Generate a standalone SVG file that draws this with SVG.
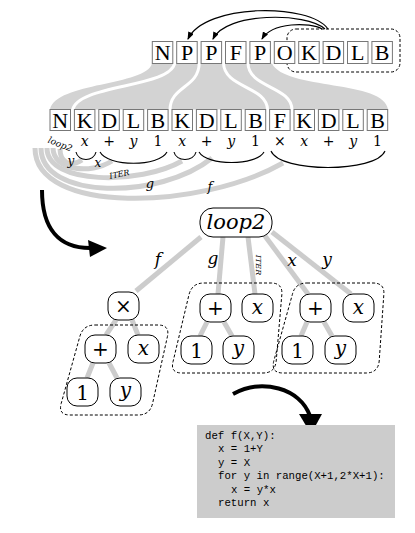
<svg xmlns="http://www.w3.org/2000/svg" width="415" height="533" viewBox="0 0 415 533">
<defs>
<style>
.box{fill:#fff;stroke:#777;stroke-width:1}
.bl{font-family:"Liberation Serif",serif;font-size:22px;text-anchor:middle;fill:#000}
.tok{font-family:"DejaVu Serif",serif;font-size:14px;text-anchor:middle;fill:#000}
.it{font-style:italic}
.band{fill:none;stroke:#d0d0d0;stroke-width:5}
.brace{fill:none;stroke:#000;stroke-width:1.1}
.edge{stroke:#cccccc;stroke-width:5;fill:none}
.nr{fill:#fff;stroke:#000;stroke-width:1}
.nl{font-family:"DejaVu Serif",serif;font-size:20px;text-anchor:middle;fill:#000}
.dash{fill:none;stroke:#000;stroke-width:1;stroke-dasharray:3 2}
.lab{font-family:"DejaVu Serif",serif;font-style:italic;text-anchor:middle;fill:#000}
.code{font-family:"Liberation Mono",monospace;font-size:10.7px;fill:#000}
.wl{fill:none;stroke:#fff;stroke-width:3}
.big{fill:none;stroke:#000;stroke-width:4}
.thin{fill:none;stroke:#000;stroke-width:1.2}
</style>
<marker id="ah" markerUnits="userSpaceOnUse" markerWidth="8" markerHeight="6" refX="7" refY="3" orient="auto">
<path d="M0,0 L8,3 L0,6 z" fill="#000"/>
</marker>
</defs>
<rect width="415" height="533" fill="#fff"/>

<g id="connectors">
<path d="M152,63.5 C146,86 56,82 50,109.5 L388,109.5 C385,80 285,90 272,63.5 Z" fill="#d3d3d3"/>
<path class="wl" d="M174.8,63 C170,88 78,84 72.5,110"/>
<path class="wl" d="M199.2,63 C199,88 170,86 170,110"/>
<path class="wl" d="M223.5,63 C224,88 267,86 267.6,110"/>
<path class="wl" d="M248,63 C248,88 292,86 292,110"/>
<path class="thin" d="M328,29 C310,3 205,3 188,39" marker-end="url(#ah)"/>
<path class="thin" d="M325,29 C306,12 226,12 213,39" marker-end="url(#ah)"/>
<path class="thin" d="M322,29 C310,22 272,22 262,39" marker-end="url(#ah)"/>
<path class="band" d="M35,148 C35,215 200,210 283,163"/>
<path class="band" d="M41,148 C41,200 160,200 212,158"/>
<path class="band" d="M47,148 C47,185 140,185 182,161"/>
<path class="band" d="M53,148 C53,170 90,175 112,161"/>
<path class="band" d="M60,149 C60,162 70,168 82,160"/>
<path class="brace" d="M76,152 C78,162 94,162 96,152"/>
<path class="brace" d="M100,152 C108,167 159,167 167,152"/>
<path class="brace" d="M174,152 C176,162 194,162 196,152"/>
<path class="brace" d="M199,152 C207,166 256,166 264,152"/>
<path class="brace" d="M271,151 C280,173 376,173 385,151"/>
<path class="edge" d="M201,237 L136,291"/>
<path class="edge" d="M223,237 L218,294"/>
<path class="edge" d="M248,237 L255,294"/>
<path class="edge" d="M265,236 L308,294"/>
<path class="edge" d="M272,232 L351,294"/>
<path class="edge" d="M116,320 L106,335"/>
<path class="edge" d="M132,320 L138,335"/>
<path class="edge" d="M93,363 L87,378"/>
<path class="edge" d="M109,363 L117,378"/>
<path class="edge" d="M207,322 L200,336"/>
<path class="edge" d="M224,322 L232,336"/>
<path class="edge" d="M307,322 L301,336"/>
<path class="edge" d="M324,322 L332,336"/>
<path class="big" d="M42,190 C42,230 60,248 90,248"/>
<polygon points="88,240 107,248 90,257" fill="#000"/>
<path class="big" d="M233,394 C262,378 300,388 310,416"/>
<polygon points="299,414 322,414 311,434" fill="#000"/>
</g>

<g id="pointer-group"><rect class="dash" x="287" y="29" width="113" height="43" rx="9"/></g>

<g id="row1">
<g id="r1-0"><rect class="box" x="152.3" y="41.5" width="20.5" height="22"/><text class="bl" x="162.6" y="60">N</text></g>
<g id="r1-1"><rect class="box" x="176.7" y="41.5" width="20.5" height="22"/><text class="bl" x="187" y="60">P</text></g>
<g id="r1-2"><rect class="box" x="201.1" y="41.5" width="20.5" height="22"/><text class="bl" x="211.4" y="60">P</text></g>
<g id="r1-3"><rect class="box" x="225.5" y="41.5" width="20.5" height="22"/><text class="bl" x="235.8" y="60">F</text></g>
<g id="r1-4"><rect class="box" x="249.9" y="41.5" width="20.5" height="22"/><text class="bl" x="260.2" y="60">P</text></g>
<g id="r1-5"><rect class="box" x="274.3" y="41.5" width="20.5" height="22"/><text class="bl" x="284.6" y="60">O</text></g>
<g id="r1-6"><rect class="box" x="298.7" y="41.5" width="20.5" height="22"/><text class="bl" x="309" y="60">K</text></g>
<g id="r1-7"><rect class="box" x="323.1" y="41.5" width="20.5" height="22"/><text class="bl" x="333.4" y="60">D</text></g>
<g id="r1-8"><rect class="box" x="347.5" y="41.5" width="20.5" height="22"/><text class="bl" x="357.8" y="60">L</text></g>
<g id="r1-9"><rect class="box" x="371.9" y="41.5" width="20.5" height="22"/><text class="bl" x="382.2" y="60">B</text></g>
</g>

<g id="row2">
<g id="r2-0"><rect class="box" x="50" y="109.5" width="20.5" height="21"/><text class="bl" x="60.3" y="127.5">N</text></g>
<g id="r2-1"><rect class="box" x="74.4" y="109.5" width="20.5" height="21"/><text class="bl" x="84.7" y="127.5">K</text></g>
<g id="r2-2"><rect class="box" x="98.8" y="109.5" width="20.5" height="21"/><text class="bl" x="109.1" y="127.5">D</text></g>
<g id="r2-3"><rect class="box" x="123.2" y="109.5" width="20.5" height="21"/><text class="bl" x="133.5" y="127.5">L</text></g>
<g id="r2-4"><rect class="box" x="147.6" y="109.5" width="20.5" height="21"/><text class="bl" x="157.9" y="127.5">B</text></g>
<g id="r2-5"><rect class="box" x="172" y="109.5" width="20.5" height="21"/><text class="bl" x="182.3" y="127.5">K</text></g>
<g id="r2-6"><rect class="box" x="196.4" y="109.5" width="20.5" height="21"/><text class="bl" x="206.7" y="127.5">D</text></g>
<g id="r2-7"><rect class="box" x="220.8" y="109.5" width="20.5" height="21"/><text class="bl" x="231.1" y="127.5">L</text></g>
<g id="r2-8"><rect class="box" x="245.2" y="109.5" width="20.5" height="21"/><text class="bl" x="255.5" y="127.5">B</text></g>
<g id="r2-9"><rect class="box" x="269.6" y="109.5" width="20.5" height="21"/><text class="bl" x="279.9" y="127.5">F</text></g>
<g id="r2-10"><rect class="box" x="294" y="109.5" width="20.5" height="21"/><text class="bl" x="304.3" y="127.5">K</text></g>
<g id="r2-11"><rect class="box" x="318.4" y="109.5" width="20.5" height="21"/><text class="bl" x="328.7" y="127.5">D</text></g>
<g id="r2-12"><rect class="box" x="342.8" y="109.5" width="20.5" height="21"/><text class="bl" x="353.1" y="127.5">L</text></g>
<g id="r2-13"><rect class="box" x="367.2" y="109.5" width="20.5" height="21"/><text class="bl" x="377.5" y="127.5">B</text></g>
</g>

<g id="tokens">
<text class="lab" font-size="9" transform="translate(59,147) rotate(22)">loop2</text>
<text class="tok it" x="84.7" y="146">x</text>
<text class="tok" x="109.1" y="146">+</text>
<text class="tok it" x="133.5" y="146">y</text>
<text class="tok" x="157.9" y="146">1</text>
<text class="tok it" x="182.3" y="146">x</text>
<text class="tok" x="206.7" y="146">+</text>
<text class="tok it" x="231.1" y="146">y</text>
<text class="tok" x="255.5" y="146">1</text>
<text class="tok" x="279.9" y="146">×</text>
<text class="tok it" x="304.3" y="146">x</text>
<text class="tok" x="328.7" y="146">+</text>
<text class="tok it" x="353.1" y="146">y</text>
<text class="tok" x="377.5" y="146">1</text>
<text class="lab" font-size="12" x="71" y="165">y</text>
<text class="lab" font-size="12" x="98" y="167">x</text>
<text class="lab" font-size="8" font-style="normal" transform="translate(120,177) rotate(-12)">ITER</text>
<text class="lab" font-size="13" x="150" y="188">g</text>
<text class="lab" font-size="13" x="210" y="191">f</text>
</g>

<g id="tree-labels">
<text class="lab" font-size="17" x="158" y="265">f</text>
<text class="lab" font-size="17" x="213" y="264">g</text>
<text class="lab" font-size="8" font-style="normal" transform="translate(256,265) rotate(90)">ITER</text>
<text class="lab" font-size="17" x="292" y="266">x</text>
<text class="lab" font-size="17" x="327" y="265">y</text>
</g>

<g id="groups">
<path id="grp-f" class="dash" d="M95,325 L158,325 Q170,325 167.4,336.7 L152.6,403.3 Q150,415 138,415 L70,415 Q58,415 61.2,403.4 L79.8,336.6 Q83,325 95,325 Z"/>
<path id="grp-g" class="dash" d="M204,283 L271,283 Q283,283 281.8,295 L276.2,361 Q275,373 263,373 L182,373 Q170,373 173.1,361.4 L189,294.6 Q192,283 204,283 Z"/>
<path id="grp-xy" class="dash" d="M307,283 L373,283 Q385,283 383.8,295 L379.2,361 Q378,373 366,373 L283,373 Q271,373 273.7,361.3 L292.3,294.7 Q295,283 307,283 Z"/>
</g>

<g id="node-loop2"><rect class="nr" x="200" y="208" width="72" height="29" rx="13"/><text class="lab" font-size="21" x="236" y="229">loop2</text></g>
<g id="node-f-times"><rect class="nr" x="108" y="292" width="31" height="28" rx="10"/><text class="nl" x="123.5" y="313">×</text></g>
<g id="node-f-plus"><rect class="nr" x="85" y="335" width="31" height="28" rx="10"/><text class="nl" x="100.5" y="356">+</text></g>
<g id="node-f-x"><rect class="nr" x="128" y="335" width="31" height="28" rx="10"/><text class="nl it" x="143.5" y="354.5">x</text></g>
<g id="node-f-1"><rect class="nr" x="67" y="378" width="31" height="28" rx="10"/><text class="nl" x="82.5" y="399.5">1</text></g>
<g id="node-f-y"><rect class="nr" x="110" y="378" width="31" height="28" rx="10"/><text class="nl it" x="125.5" y="397">y</text></g>

<g id="node-g-plus"><rect class="nr" x="200" y="294" width="31" height="28" rx="10"/><text class="nl" x="215.5" y="315">+</text></g>
<g id="node-g-x"><rect class="nr" x="242" y="294" width="31" height="28" rx="10"/><text class="nl it" x="257.5" y="313.5">x</text></g>
<g id="node-g-1"><rect class="nr" x="181" y="336" width="31" height="28" rx="10"/><text class="nl" x="196.5" y="357.5">1</text></g>
<g id="node-g-y"><rect class="nr" x="223" y="336" width="31" height="28" rx="10"/><text class="nl it" x="238.5" y="355">y</text></g>

<g id="node-xy-plus"><rect class="nr" x="300" y="294" width="31" height="28" rx="10"/><text class="nl" x="315.5" y="315">+</text></g>
<g id="node-xy-x"><rect class="nr" x="343" y="294" width="31" height="28" rx="10"/><text class="nl it" x="358.5" y="313.5">x</text></g>
<g id="node-xy-1"><rect class="nr" x="282" y="336" width="31" height="28" rx="10"/><text class="nl" x="297.5" y="357.5">1</text></g>
<g id="node-xy-y"><rect class="nr" x="325" y="336" width="31" height="28" rx="10"/><text class="nl it" x="340.5" y="355">y</text></g>

<g id="code">
<rect x="197" y="425" width="198" height="93" fill="#cccccc"/>
<text class="code" x="205" y="438.5">def f(X,Y):</text>
<text class="code" x="218" y="452">x = 1+Y</text>
<text class="code" x="218" y="465.6">y = X</text>
<text class="code" x="218" y="479.2">for y in range(X+1,2*X+1):</text>
<text class="code" x="231" y="492.8">x = y*x</text>
<text class="code" x="218" y="506.4">return x</text>
</g>
</svg>
